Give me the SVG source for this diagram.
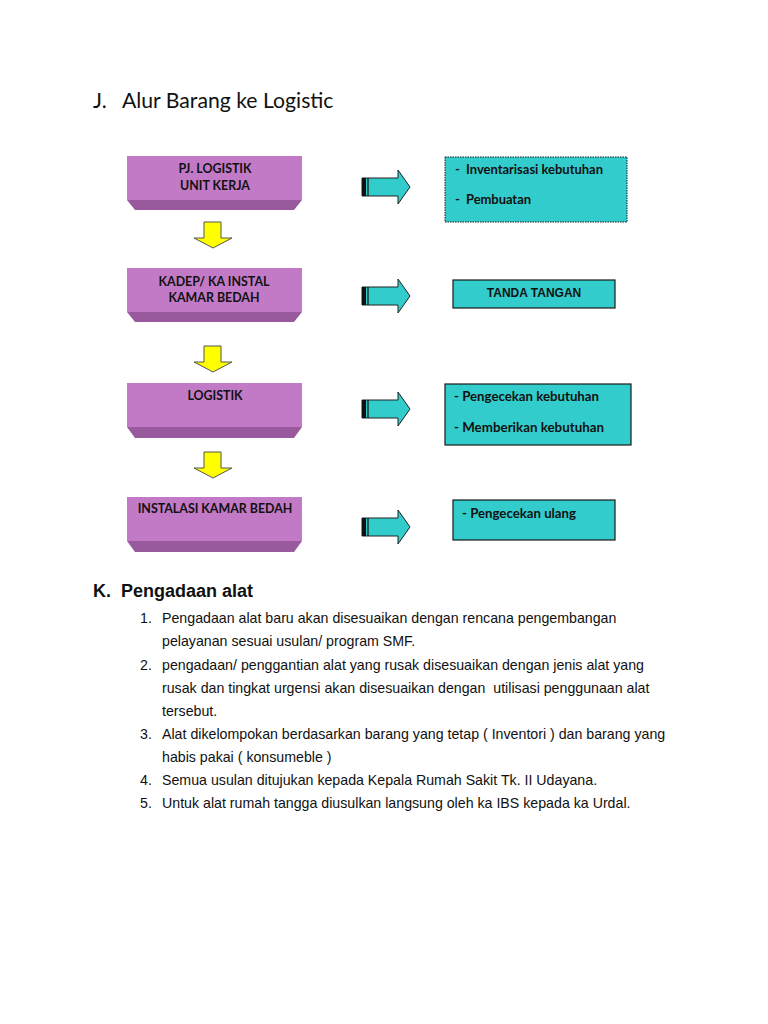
<svg xmlns="http://www.w3.org/2000/svg" xmlns:xlink="http://www.w3.org/1999/xlink" width="768" height="1024" viewBox="0 0 768 1024">
<style>
.body{fill:#c27ac6}
.bevel{fill:#985a9c}
.ntext{font-family:Lato,"Open Sans",sans-serif;font-weight:bold;font-size:12.4px;fill:#111;text-anchor:middle}
.ctext{font-family:Lato,"Open Sans",sans-serif;font-weight:bold;font-size:13px;fill:#111}
.cbox{fill:#33cccc;stroke:#1a1a1a;stroke-width:1.2}
.yarrow{fill:#ffff00;stroke:#555;stroke-width:1}
.carrow{fill:#33cccc;stroke:#222;stroke-width:1}
.title{font-family:Lato,"Open Sans",sans-serif;font-size:21.2px;fill:#111}
.khead{font-family:"Liberation Sans",Arial,sans-serif;font-weight:bold;font-size:18px;fill:#111}
.list{font-family:"Liberation Sans",Arial,sans-serif;font-size:14.2px;fill:#111}
</style>
<defs>
<g id="carr">
<path class="carrow" d="M0,-9 L36,-9 L36,-17 L48,0 L36,17 L36,9 L0,9 Z"/>
<rect x="0" y="-9" width="4" height="18" fill="#111"/>
<line x1="6" y1="-9" x2="6" y2="9" stroke="#111" stroke-width="1.2"/>
</g>
<path id="yarr" class="yarrow" d="M-9,0 L8,0 L8,16 L19,16 L0,26 L-19,16 L-9,16 Z"/>
</defs>
<rect width="768" height="1024" fill="#fff"/>

<text class="title" x="93" y="108">J.</text>
<text class="title" x="122" y="108">Alur Barang ke Logistic</text>

<g id="node-pj-logistik">
<rect class="body" x="127" y="156" width="175" height="44"/>
<polygon class="bevel" points="127,200 302,200 294,210 135,210"/>
<text class="ntext" x="215" y="173">PJ. LOGISTIK</text>
<text class="ntext" x="215" y="190">UNIT KERJA</text>
</g>
<g id="node-kadep">
<rect class="body" x="127" y="268" width="175" height="44"/>
<polygon class="bevel" points="127,312 302,312 294,322 135,322"/>
<text class="ntext" x="214" y="286">KADEP/ KA INSTAL</text>
<text class="ntext" x="214" y="302">KAMAR BEDAH</text>
</g>
<g id="node-logistik">
<rect class="body" x="127" y="383" width="175" height="44"/>
<polygon class="bevel" points="127,427 302,427 294,438 135,438"/>
<text class="ntext" x="215" y="400">LOGISTIK</text>
</g>
<g id="node-instalasi">
<rect class="body" x="127" y="497" width="175" height="44"/>
<polygon class="bevel" points="127,541 302,541 294,552 135,552"/>
<text class="ntext" x="215" y="513">INSTALASI KAMAR BEDAH</text>
</g>

<g id="node-inventarisasi">
<rect x="445" y="157" width="182" height="65" fill="#33cccc" stroke="#1a1a1a" stroke-width="1" stroke-dasharray="1.5,1"/>
<text class="ctext" x="455" y="174">-</text>
<text class="ctext" x="466" y="174" textLength="137" lengthAdjust="spacing">Inventarisasi kebutuhan</text>
<text class="ctext" x="455" y="204">-</text>
<text class="ctext" x="466" y="204" textLength="65" lengthAdjust="spacing">Pembuatan</text>
</g>
<g id="node-tanda-tangan">
<rect class="cbox" x="453" y="280" width="162" height="28"/>
<text x="534" y="297" font-family="Liberation Sans,Arial,sans-serif" font-weight="bold" font-size="12" fill="#111" text-anchor="middle">TANDA TANGAN</text>
</g>
<g id="node-pengecekan">
<rect class="cbox" x="445" y="384" width="186" height="61"/>
<text class="ctext" x="454" y="401" textLength="145" lengthAdjust="spacingAndGlyphs">- Pengecekan kebutuhan</text>
<text class="ctext" x="454" y="432" textLength="150" lengthAdjust="spacingAndGlyphs">- Memberikan kebutuhan</text>
</g>
<g id="node-pengecekan-ulang">
<rect class="cbox" x="453" y="500" width="162" height="40"/>
<text class="ctext" x="462" y="518" textLength="114" lengthAdjust="spacingAndGlyphs">- Pengecekan ulang</text>
</g>

<g id="connectors">
<use xlink:href="#yarr" x="213" y="222"/>
<use xlink:href="#yarr" x="213" y="346"/>
<use xlink:href="#yarr" x="213" y="452"/>
<use xlink:href="#carr" x="362" y="187"/>
<use xlink:href="#carr" x="362" y="296"/>
<use xlink:href="#carr" x="362" y="409"/>
<use xlink:href="#carr" x="362" y="527"/>
</g>

<text class="khead" x="93" y="597">K.</text>
<text class="khead" x="121" y="597">Pengadaan alat</text>
<g class="list">
<text x="140" y="623">1.</text>
<text x="162" y="623">Pengadaan alat baru akan disesuaikan dengan rencana pengembangan</text>
<text x="162" y="646">pelayanan sesuai usulan/ program SMF.</text>
<text x="140" y="670">2.</text>
<text x="162" y="670">pengadaan/ penggantian alat yang rusak disesuaikan dengan jenis alat yang</text>
<text x="162" y="693" xml:space="preserve">rusak dan tingkat urgensi akan disesuaikan dengan  utilisasi penggunaan alat</text>
<text x="162" y="716">tersebut.</text>
<text x="140" y="739">3.</text>
<text x="162" y="739">Alat dikelompokan berdasarkan barang yang tetap ( Inventori ) dan barang yang</text>
<text x="162" y="762">habis pakai ( konsumeble )</text>
<text x="140" y="785">4.</text>
<text x="162" y="785">Semua usulan ditujukan kepada Kepala Rumah Sakit Tk. II Udayana.</text>
<text x="140" y="808">5.</text>
<text x="162" y="808">Untuk alat rumah tangga diusulkan langsung oleh ka IBS kepada ka Urdal.</text>
</g>
</svg>
